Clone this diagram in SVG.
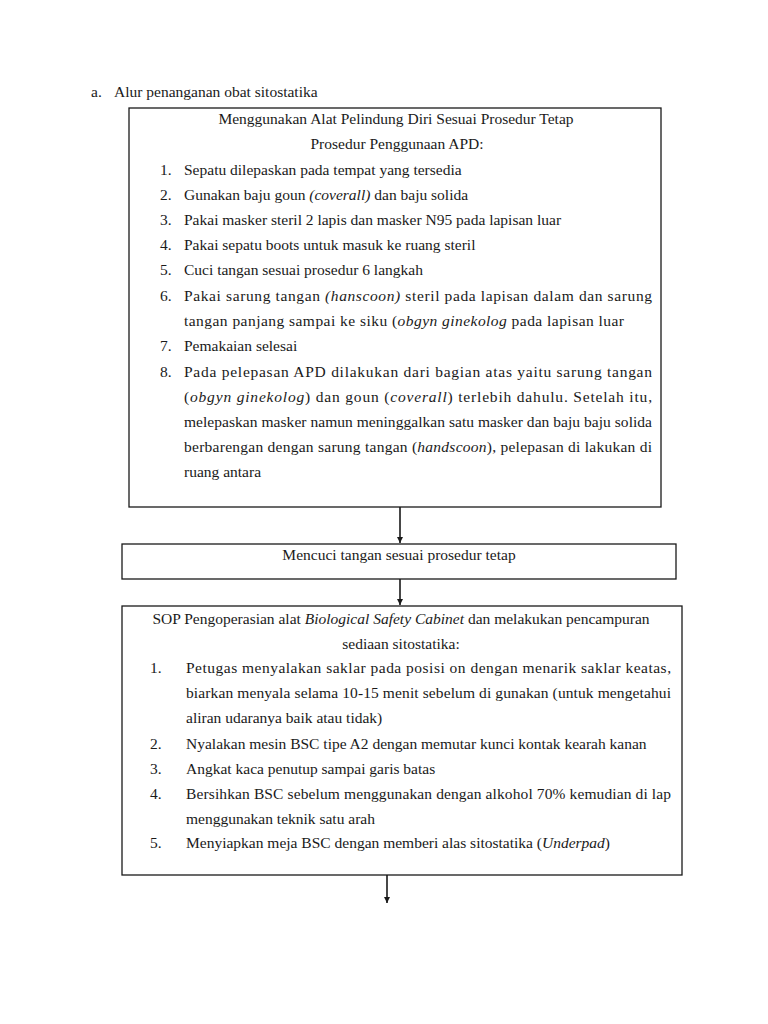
<svg xmlns="http://www.w3.org/2000/svg" width="768" height="1024" viewBox="0 0 768 1024">
<defs>
<style>
text{font-family:"Liberation Serif","Times New Roman",serif;font-size:15.5px;fill:#1a1a1a}
.c{text-anchor:middle}
.i{font-style:italic}
.box{fill:#fff;stroke:#1a1a1a;stroke-width:1.3}
.con{stroke:#1a1a1a;stroke-width:1.6;fill:none}
</style>
<marker id="ah" viewBox="0 0 10 10" refX="10" refY="5" markerWidth="6" markerHeight="6" markerUnits="userSpaceOnUse" orient="auto"><path d="M0,0 L10,5 L0,10 z" fill="#1a1a1a"/></marker>
</defs>
<rect width="768" height="1024" fill="#fff"/>
<g id="heading">
<text x="91" y="97">a.</text>
<text x="114" y="97">Alur penanganan obat sitostatika</text>
</g>
<g id="node-apd">
<rect class="box" x="129" y="108" width="532" height="399"/>
<text class="c" x="396" y="124">Menggunakan Alat Pelindung Diri Sesuai Prosedur Tetap</text>
<text class="c" x="397" y="149">Prosedur Penggunaan APD:</text>
<text x="160" y="175">1.</text><text x="184" y="175">Sepatu dilepaskan pada tempat yang tersedia</text>
<text x="160" y="200">2.</text><text x="184" y="200">Gunakan baju goun <tspan class="i">(coverall)</tspan> dan baju solida</text>
<text x="160" y="225">3.</text><text x="184" y="225">Pakai masker steril 2 lapis dan masker N95 pada lapisan luar</text>
<text x="160" y="250">4.</text><text x="184" y="250">Pakai sepatu boots untuk masuk ke ruang steril</text>
<text x="160" y="275">5.</text><text x="184" y="275">Cuci tangan sesuai prosedur 6 langkah</text>
<text x="160" y="301">6.</text><text x="184" y="301" textLength="468" lengthAdjust="spacing">Pakai sarung tangan <tspan class="i">(hanscoon)</tspan> steril pada lapisan dalam dan sarung</text>
<text x="184" y="326" textLength="440" lengthAdjust="spacing">tangan panjang sampai ke siku (<tspan class="i">obgyn ginekolog</tspan> pada lapisan luar</text>
<text x="160" y="351">7.</text><text x="184" y="351">Pemakaian selesai</text>
<text x="160" y="377">8.</text><text x="184" y="377" textLength="468" lengthAdjust="spacing">Pada pelepasan APD dilakukan dari bagian atas yaitu sarung tangan</text>
<text x="184" y="402" textLength="468" lengthAdjust="spacing">(<tspan class="i">obgyn ginekolog</tspan>) dan goun (<tspan class="i">coverall</tspan>) terlebih dahulu. Setelah itu,</text>
<text x="184" y="427" textLength="468" lengthAdjust="spacing">melepaskan masker namun meninggalkan satu masker dan baju baju solida</text>
<text x="184" y="452" textLength="468" lengthAdjust="spacing">berbarengan dengan sarung tangan (<tspan class="i">handscoon</tspan>), pelepasan di lakukan di</text>
<text x="184" y="477">ruang antara</text>
</g>
<g id="node-cuci">
<rect class="box" x="122" y="544" width="554" height="35"/>
<text class="c" x="399" y="560">Mencuci tangan sesuai prosedur tetap</text>
</g>
<g id="node-sop">
<rect class="box" x="122" y="606" width="560" height="269"/>
<text class="c" x="401" y="624">SOP Pengoperasian alat <tspan class="i">Biological Safety Cabinet</tspan> dan melakukan pencampuran</text>
<text class="c" x="401" y="649">sediaan sitostatika:</text>
<text x="150" y="673">1.</text><text x="186" y="673" textLength="485" lengthAdjust="spacing">Petugas menyalakan saklar pada posisi on dengan menarik saklar keatas,</text>
<text x="186" y="698" textLength="485" lengthAdjust="spacing">biarkan menyala selama 10-15 menit sebelum di gunakan (untuk mengetahui</text>
<text x="186" y="723">aliran udaranya baik atau tidak)</text>
<text x="150" y="749">2.</text><text x="186" y="749">Nyalakan  mesin BSC tipe A2 dengan memutar kunci kontak kearah kanan</text>
<text x="150" y="774">3.</text><text x="186" y="774">Angkat kaca penutup sampai garis batas</text>
<text x="150" y="799">4.</text><text x="186" y="799" textLength="485" lengthAdjust="spacing">Bersihkan BSC sebelum menggunakan dengan alkohol 70% kemudian di lap</text>
<text x="186" y="824">menggunakan teknik satu arah</text>
<text x="150" y="848">5.</text><text x="186" y="848">Menyiapkan meja BSC dengan memberi alas sitostatika (<tspan class="i">Underpad</tspan>)</text>
</g>
<g id="connectors">
<line class="con" x1="400" y1="507" x2="400" y2="543" marker-end="url(#ah)"/>
<line class="con" x1="400" y1="579" x2="400" y2="605" marker-end="url(#ah)"/>
<line class="con" x1="387" y1="875" x2="387" y2="903" marker-end="url(#ah)"/>
</g>
</svg>
